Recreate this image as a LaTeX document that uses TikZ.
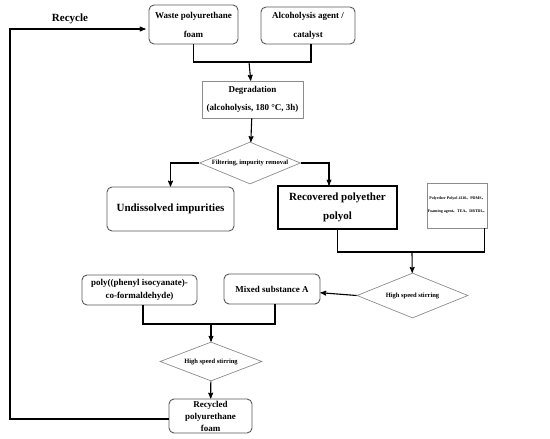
\documentclass[tikz,border=0pt]{standalone}
\usepackage{fontspec}
\setmainfont{Liberation Serif}
\newfontfamily\cjk{Noto Sans CJK SC}
\usetikzlibrary{shapes.geometric, positioning, arrows}
\tikzset{x=1pt, y=-1pt, >=stealth', link/.style={draw, line width=1.1pt},
  every edge/.style={link,->},
  rbox/.style={draw=black!65, line width=0.9pt, rounded corners=5pt, inner sep=0pt, align=center, font=\fontsize{9}{19}\selectfont\bfseries},
  pbox/.style={draw=black!45, line width=0.7pt, inner sep=0pt, align=center, font=\fontsize{9}{18}\selectfont\bfseries},
  kbox/.style={draw, line width=1.1pt, inner sep=0pt, align=center, font=\fontsize{11}{19}\selectfont\bfseries},
  dec/.style={diamond, draw=black!45, line width=0.7pt, aspect=2.4, inner sep=0pt, font=\fontsize{6.5}{8}\selectfont\bfseries}}

\begin{document}
\begin{tikzpicture}
    \useasboundingbox (0,0) rectangle (550,439);
    \node[rbox, minimum width=89, minimum height=39] (waste) at (193.5,24.5) {Waste polyurethane\\foam};
    \node[rbox, minimum width=94, minimum height=37] (alco) at (308,25.5) {Alcoholysis agent /\\catalyst};
    \node[pbox, minimum width=101, minimum height=37] (degr) at (252.5,99.5) {Degradation\\(alcoholysis, 180 °C, 3h)};
    \node[dec, minimum width=101, minimum height=42] (filt) at (250,163) {Filtering, impurity removal};
    \node[rbox, minimum width=127, minimum height=44, font=\fontsize{11}{19}\selectfont\bfseries] (undis) at (170.5,209) {Undissolved impurities};
    \node[kbox, minimum width=119, minimum height=43] (recov) at (337.5,207.5) {Recovered polyether\\polyol};
    \node[pbox, minimum width=59, minimum height=45, font=\fontsize{4}{13}\selectfont\bfseries] (add) at (457.5,205.5) {Polyether Polyol 4110{\cjk 、}PDMS{\cjk 、}\\Foaming agent{\cjk 、}TEA{\cjk 、}DBTDL{\cjk 、}};
    \node[dec, minimum width=111, minimum height=45] (stir1) at (412.5,295.5) {High speed stirring};
    \node[rbox, minimum width=96, minimum height=30] (mix) at (272,289) {Mixed substance A};
    \node[rbox, minimum width=115, minimum height=30, font=\fontsize{9}{13}\selectfont\bfseries] (pmdi) at (139.5,290) {poly((phenyl isocyanate)-\\co-formaldehyde)};
    \node[dec, minimum width=102, minimum height=39] (stir2) at (211,361.5) {High speed stirring};
    \node[rbox, minimum width=83, minimum height=34, font=\fontsize{9}{12}\selectfont\bfseries] (recyc) at (210.5,416) {Recycled\\polyurethane\\foam};
    \node[font=\fontsize{11}{13}\selectfont\bfseries] (lbl) at (70,19) {Recycle};

    \coordinate (j1) at (249,62);
    \coordinate (j2) at (412,252);
    \coordinate (j3) at (211,324);
    \coordinate (cb) at (10,419);
    \coordinate (ct) at (10,29);

    \draw[link] (waste.south) |- (j1) -| ([xshift=3pt]alco.south);
    \draw[link] (recov.south) |- (j2) -| ([xshift=27pt]add.south);
    \draw[link] ([xshift=3.5pt]pmdi.south) |- (j3) -| ([xshift=3pt]mix.south);
    \draw[link,->] (filt.west) -| (undis.north);
    \draw[link,->] (filt.east) -| ([xshift=-8.5pt]recov.north);
    \draw[link,->] ([yshift=-3pt]recyc.west) -- (cb) -- (ct) -- ([xshift=-3pt,yshift=-4.5pt]waste.west);
    \draw   (j1) edge (degr)
            (degr) edge (filt)
            (j2) edge (stir1)
            (stir1.west) edge (mix)
            (j3) edge (stir2)
            (stir2) edge (recyc);
\end{tikzpicture}
\end{document}
